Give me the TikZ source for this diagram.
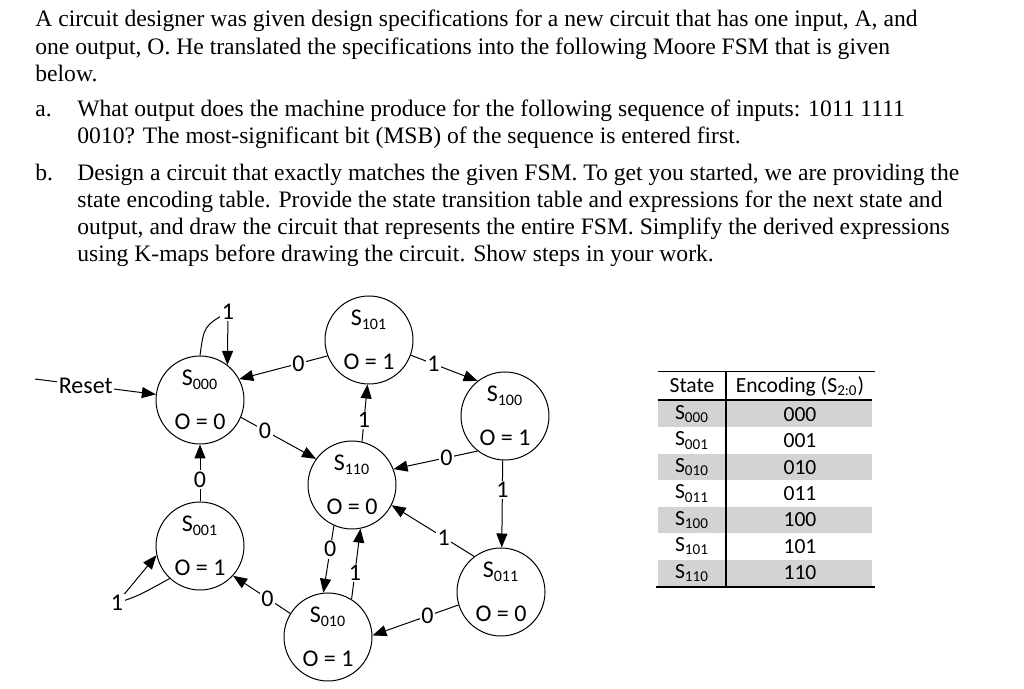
\documentclass[tikz,border=0pt]{standalone}
\usepackage{fontspec}
\setmainfont{Liberation Serif}
\newfontfamily\statefont{Carlito}
\usetikzlibrary{arrows.meta}
\definecolor{rowgray}{RGB}{211,211,211}

\begin{document}
\begin{tikzpicture}[x=0.5pt,y=-0.5pt,
  txt/.style={anchor=base west,inner sep=0pt,font=\fontsize{11.8}{13.5}\selectfont},
  state/.style={circle,draw,line width=0.5pt,minimum size=44pt,inner sep=0pt,align=center,
    font=\statefont\fontsize{12}{14}\selectfont},
  trans/.style={-{Triangle[length=7pt,width=5.5pt]},line width=0.5pt},
  lbl/.style={fill=white,inner sep=0.8pt,font=\statefont\fontsize{12}{14}\selectfont},
  cell/.style={inner sep=0pt,font=\statefont\fontsize{10.8}{12}\selectfont}]
\useasboundingbox (0,0) rectangle (1024,689);
\fill[white] (0,0) rectangle (1024,689);

% problem text
\node[txt] (l1) at (35,27) {A circuit designer was given design specifications for a new circuit that has one input, A, and};
\node[txt] (l2) at (35,54.5) {one output, O. He translated the specifications into the following Moore FSM that is given};
\node[txt] (l3) at (35,82) {below.};
\node[txt] (qa) at (35,117) {a.};
\node[txt] (a1) at (77,117) {What output does the machine produce for the following sequence of inputs: 1011 1111};
\node[txt] (a2) at (77,144) {0010? The most-significant bit (MSB) of the sequence is entered first.};
\node[txt] (qb) at (35,181) {b.};
\node[txt] (b1) at (77,181) {Design a circuit that exactly matches the given FSM. To get you started, we are providing the};
\node[txt] (b2) at (77,208) {state encoding table. Provide the state transition table and expressions for the next state and};
\node[txt] (b3) at (77,235) {output, and draw the circuit that represents the entire FSM. Simplify the derived expressions};
\node[txt] (b4) at (77,262) {using K-maps before drawing the circuit. Show steps in your work.};

% states
\node[state] (S000) at (200,400) {S\textsubscript{000}\\[8pt]O = 0};
\node[state] (S101) at (369,340) {S\textsubscript{101}\\[8pt]O = 1};
\node[state] (S100) at (505,416) {S\textsubscript{100}\\[8pt]O = 1};
\node[state] (S110) at (352,485) {S\textsubscript{110}\\[8pt]O = 0};
\node[state] (S001) at (200,546) {S\textsubscript{001}\\[8pt]O = 1};
\node[state] (S010) at (328,637) {S\textsubscript{010}\\[8pt]O = 1};
\node[state] (S011) at (501,592) {S\textsubscript{011}\\[8pt]O = 0};
\coordinate (reset) at (35,379);

% transitions
\draw[trans] (reset) -- node[lbl,pos=0.42]{Reset} (S000);
\draw[trans] (S000.90) .. controls (204,326) .. (228,312) node[lbl]{1} -- (S000.52);
\draw[trans] (S101.201) -- node[lbl,pos=0.33]{0} (S000.28);
\draw[trans] (S000.337) -- node[lbl,pos=0.32]{0} (S110.144);
\draw[trans] (S001.north) -- node[lbl,pos=0.38]{0} (S000.south);
\draw[trans] (S101.340) -- node[lbl,pos=0.34]{1} (S100.128);
\draw[trans] (S110.77) -- node[lbl,pos=0.38]{1} (S101.268);
\draw[trans] (S100.232) -- node[lbl,pos=0.37]{0} (S110.21);
\draw[trans] (S100.267) -- node[lbl,pos=0.34]{1} (S011.89);
\draw[trans] (S011.127) -- node[lbl,pos=0.37]{1} (S110.333);
\draw[trans] (S110.246) -- node[lbl,pos=0.35]{0} (S010.96);
\draw[trans] (S010.58) -- node[lbl,pos=0.37]{1} (S110.281);
\draw[trans] (S011.197) -- node[lbl,pos=0.36]{0} (S010.2);
\draw[trans] (S010.148) -- node[lbl,pos=0.4]{0} (S001.318);
\draw[trans] (S001.227) .. controls (138,596) .. (117,603) node[lbl]{1} -- (S001.192);

% encoding table
\fill[rowgray] (658,401) rectangle (872,427.4);
\fill[rowgray] (658,453.9) rectangle (872,480.3);
\fill[rowgray] (658,506.7) rectangle (872,533.1);
\fill[rowgray] (658,559.6) rectangle (872,586);
\draw[line width=0.5pt] (658,372) -- (875,372);
\draw[line width=1pt] (658,400) -- (872,400);
\draw[line width=1pt] (656,587) -- (875,587);
\draw[line width=0.6pt] (726,372) -- (726,587);
\node[cell] (hst) at (692,386) {State};
\node[cell] (hen) at (800,386) {Encoding (S\textsubscript{2:0})};
\node[cell] (st0) at (692,414.2) {S\textsubscript{000}};
\node[cell] (en0) at (800,414.2) {000};
\node[cell] (st1) at (692,440.6) {S\textsubscript{001}};
\node[cell] (en1) at (800,440.6) {001};
\node[cell] (st2) at (692,467.1) {S\textsubscript{010}};
\node[cell] (en2) at (800,467.1) {010};
\node[cell] (st3) at (692,493.5) {S\textsubscript{011}};
\node[cell] (en3) at (800,493.5) {011};
\node[cell] (st4) at (692,519.9) {S\textsubscript{100}};
\node[cell] (en4) at (800,519.9) {100};
\node[cell] (st5) at (692,546.4) {S\textsubscript{101}};
\node[cell] (en5) at (800,546.4) {101};
\node[cell] (st6) at (692,572.8) {S\textsubscript{110}};
\node[cell] (en6) at (800,572.8) {110};
\end{tikzpicture}
\end{document}
